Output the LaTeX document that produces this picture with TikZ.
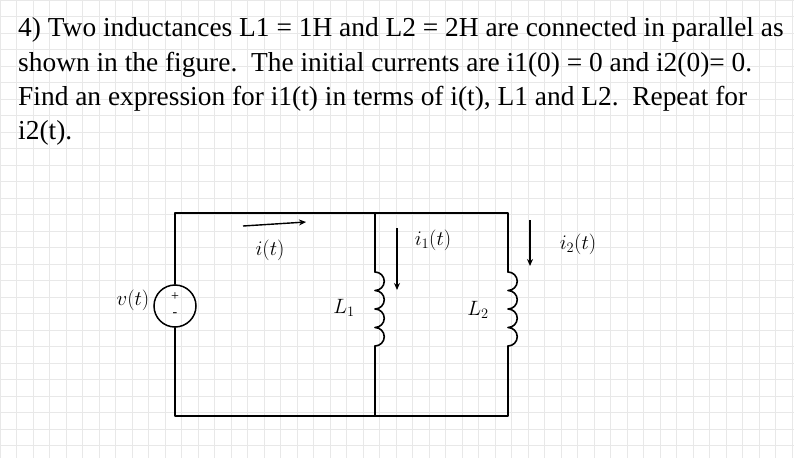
\documentclass[tikz,border=0pt]{standalone}
\usepackage{fontspec}
\setmainfont{Liberation Serif}
\usetikzlibrary{arrows.meta}
\begin{document}
\begin{tikzpicture}[x=1pt,y=-1pt,
  txt/.style={anchor=west,inner sep=0,font=\fontsize{27.4}{30}\selectfont},
  lbl/.style={inner sep=1,font=\fontsize{20}{22}\selectfont},
  wire/.style={line width=1.6pt,line cap=round,line join=round},
  arr/.style={line width=1.4pt,-{Stealth[length=7pt,width=6pt]}}]
\fill[white] (0,0) rectangle (794,458);
\useasboundingbox (0,0) rectangle (794,458);
\foreach \i in {0,...,48}{\draw[black!9,line width=0.5pt] (\i*16.5,0) -- (\i*16.5,458);}
\foreach \i in {0,...,28}{\draw[black!9,line width=0.5pt] (0,\i*16.5) -- (794,\i*16.5);}
\node[txt] (t1) at (18,30) {4) Two inductances L1 = 1H and L2 = 2H are connected in parallel as};
\node[txt] (t2) at (18,65) {shown in the figure.\ \ The initial currents are i1(0) = 0 and i2(0)= 0.};
\node[txt] (t3) at (18,99) {Find an expression for i1(t) in terms of i(t), L1 and L2.\ \ Repeat for};
\node[txt] (t4) at (18,133) {i2(t).};
\coordinate (tl) at (175,213);
\coordinate (tm) at (375,213);
\coordinate (tr) at (508,213);
\coordinate (bl) at (175,416);
\coordinate (bm) at (375,416);
\coordinate (br) at (508,416);
\node[circle,draw,line width=1.5pt,minimum size=42,inner sep=0] (src) at (175,306) {};
\node[font=\fontsize{14}{14}\selectfont,inner sep=0] (pl) at (175,297) {+};
\node[font=\fontsize{14}{14}\selectfont,inner sep=0] (mi) at (175,315) {-};
\coordinate (l1t) at (375,272);
\coordinate (l1b) at (375,346);
\coordinate (l2t) at (508,272);
\coordinate (l2b) at (508,346);
\draw[wire] (src.north) -- (tl) -- (tm) -- (tr) -- (l2t);
\draw[wire] (tm) -- (l1t);
\draw[wire] (src.south) -- (bl) -- (bm) -- (br) -- (l2b);
\draw[wire] (bm) -- (l1b);
\foreach \c in {l1t,l2t}{
 \draw[wire] (\c) arc[start angle=-90,end angle=90,radius=9.25]
   arc[start angle=-90,end angle=90,radius=9.25]
   arc[start angle=-90,end angle=90,radius=9.25]
   arc[start angle=-90,end angle=90,radius=9.25];}
\coordinate (ia) at (243,226); \coordinate (ib) at (306,222);
\draw[arr] (ia) -- (ib);
\node[lbl] (il) at (270,250) {$i(t)$};
\coordinate (i1a) at (397,228); \coordinate (i1b) at (397,290);
\draw[arr] (i1a) -- (i1b);
\node[lbl] (i1l) at (433,240) {$i_1(t)$};
\coordinate (i2a) at (530,220); \coordinate (i2b) at (530,266);
\draw[arr] (i2a) -- (i2b);
\node[lbl] (i2l) at (578,244) {$i_2(t)$};
\node[lbl] (vl) at (133,300) {$v(t)$};
\node[lbl] (L1l) at (344,308) {$L_1$};
\node[lbl] (L2l) at (478,310) {$L_2$};
\end{tikzpicture}
\end{document}
